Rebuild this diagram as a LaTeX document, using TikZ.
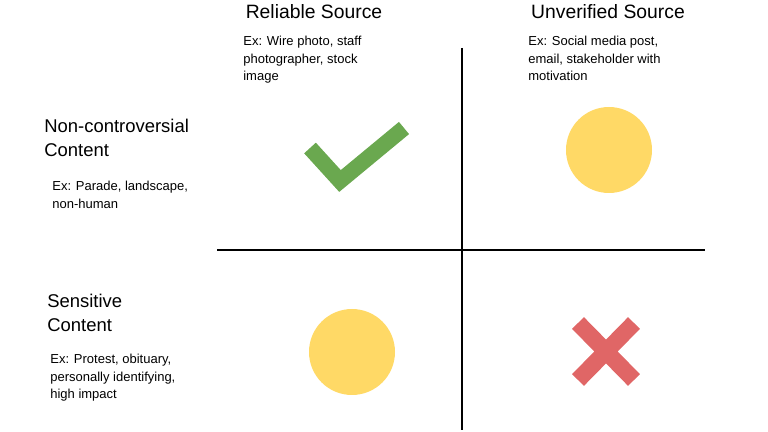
\documentclass[tikz,border=0pt]{standalone}
\usepackage{fontspec}
\setmainfont{Liberation Sans}
\definecolor{chk}{RGB}{106,168,79}
\definecolor{yel}{RGB}{255,217,102}
\definecolor{rd}{RGB}{224,102,102}
\tikzset{
 head/.style={font=\fontsize{11}{12}\selectfont,anchor=center},
 rowhead/.style={font=\fontsize{10.5}{13.6}\selectfont,anchor=north west,align=left,inner sep=0},
 small/.style={font=\fontsize{7.4}{10}\selectfont,anchor=north west,align=left,inner sep=0},
 axis/.style={line width=0.8pt,black},
 dot/.style={circle,fill=yel,minimum size=86*0.02cm,inner sep=0}
}
\begin{document}
\begin{tikzpicture}[x=0.02cm,y=-0.02cm]
\useasboundingbox (0,0) rectangle (768,432);
\coordinate (vt) at (462,48); \coordinate (vb) at (462,430);
\coordinate (hl) at (217,250); \coordinate (hr) at (705,250);
\draw[axis] (vt) -- (vb);
\draw[axis] (hl) -- (hr);
\node[head] (h1) at (314,12) {Reliable Source};
\node[head] (h2) at (608,12) {Unverified Source};
\node[small] (s1) at (243,36) {Ex: Wire photo, staff\\photographer, stock\\image};
\node[small] (s2) at (528,36) {Ex: Social media post,\\email, stakeholder with\\motivation};
\node[rowhead] (r1) at (44,119) {Non-controversial\\Content};
\node[small] (e1) at (52,181) {Ex: Parade, landscape,\\non-human};
\node[rowhead] (r2) at (47,294) {Sensitive\\Content};
\node[small] (e2) at (50,354) {Ex: Protest, obituary,\\personally identifying,\\high impact};
\coordinate (c1) at (310,148); \coordinate (c2) at (340,181); \coordinate (c3) at (404,128);
\draw[chk,line width=9pt] (c1) -- (c2) -- (c3);
\node[dot] (y1) at (609,150) {};
\node[dot] (y2) at (352,352) {};
\coordinate (x1) at (578,323); \coordinate (x2) at (634,380);
\coordinate (x3) at (634,323); \coordinate (x4) at (578,380);
\draw[rd,line width=9.5pt] (x1) -- (x2) (x3) -- (x4);
\end{tikzpicture}
\end{document}
